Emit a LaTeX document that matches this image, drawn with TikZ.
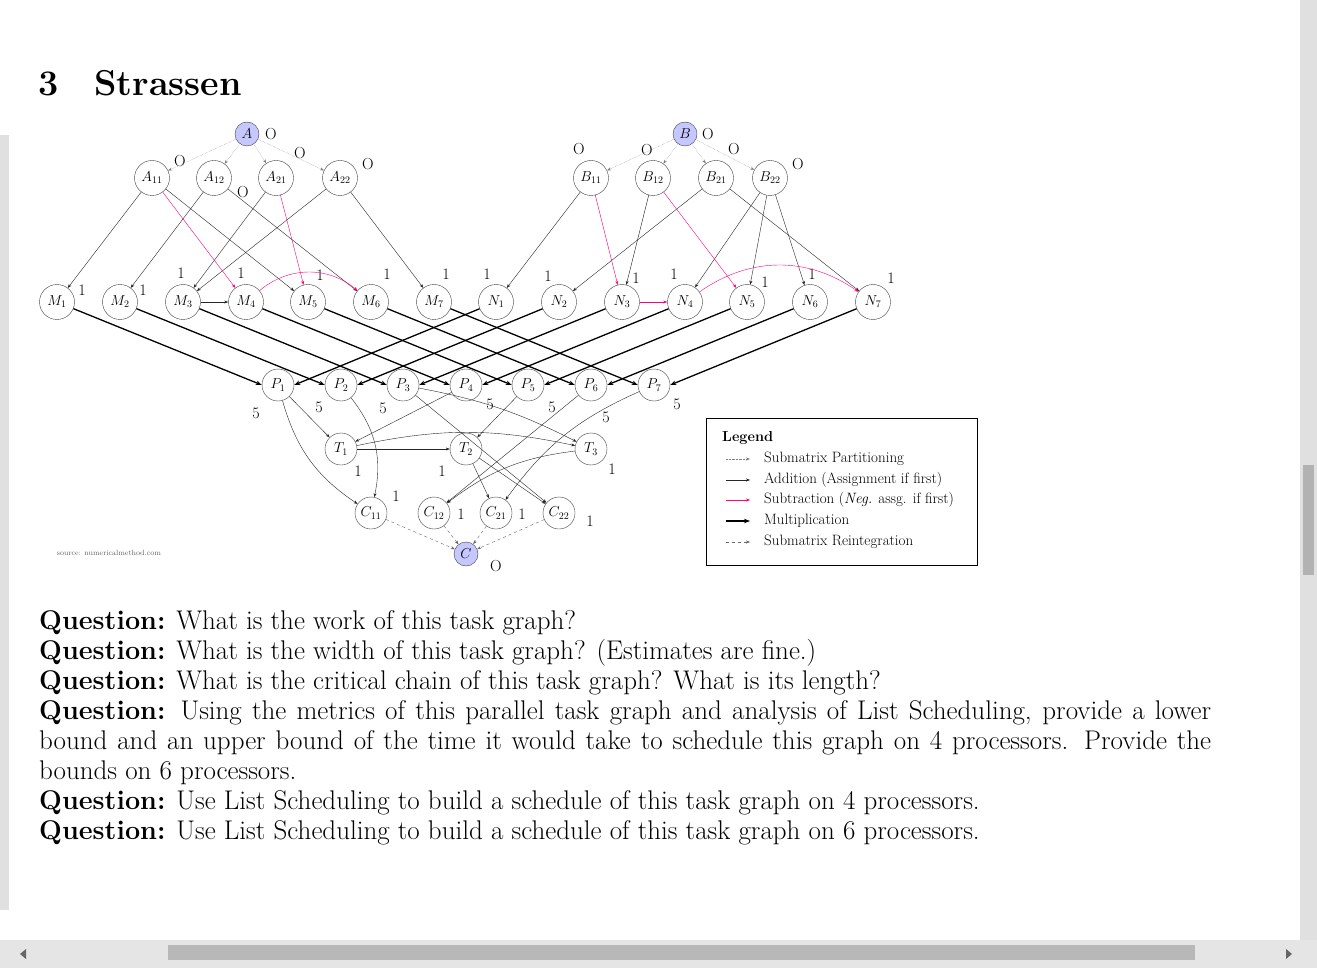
\documentclass[tikz,border=0pt]{standalone}
\usetikzlibrary{arrows.meta}
\begin{document}
\begin{tikzpicture}[x=1pt,y=-1pt,
 nd/.style={circle,draw=black!75,thin,minimum size=35pt,inner sep=0pt,font=\fontsize{14}{15}\selectfont},
 rt/.style={circle,draw=black!75,fill=blue!22,minimum size=24pt,inner sep=0pt,font=\fontsize{14}{15}\selectfont},
 lb/.style={font=\fontsize{16}{17}\selectfont,inner sep=0pt},
 part/.style={densely dotted,black!50,-{Stealth[length=4pt]}},
 add/.style={black!85,-{Stealth[length=4pt]}},
 sub/.style={red!50!magenta,-{Stealth[length=4pt]}},
 mul/.style={line width=1.3pt,black,-{Stealth[length=6pt]}},
 reint/.style={dashed,black!60,-{Stealth[length=4pt]}}]
\useasboundingbox (0,0) rectangle (1317,968);
\fill[white] (0,0) rectangle (1317,968);
% viewer chrome
\fill[black!12] (1300,0) rectangle (1317,940);
\fill[black!30] (1303,465) rectangle (1314,575);
\fill[black!10] (0,940) rectangle (1317,968);
\fill[black!28] (168,945) rectangle (1195,960);
\fill[black!12] (0,135) rectangle (9,910);
\fill[black!60] (20,954) -- (26,949) -- (26,959) -- cycle;
\fill[black!60] (1292,954) -- (1286,949) -- (1286,959) -- cycle;
% heading
\node[anchor=west,inner sep=0pt,font=\fontsize{36}{40}\selectfont\bfseries] at (38,83) {3\hspace{36pt}Strassen};
% nodes
\node[rt] (A) at (247,134) {$A$};
\node[rt] (B) at (685,134) {$B$};
\node[nd] (A11) at (152,178) {$A_{11}$};
\node[nd] (A12) at (214,178) {$A_{12}$};
\node[nd] (A21) at (276,178) {$A_{21}$};
\node[nd] (A22) at (340,178) {$A_{22}$};
\node[nd] (B11) at (591,178) {$B_{11}$};
\node[nd] (B12) at (653,178) {$B_{12}$};
\node[nd] (B21) at (716,178) {$B_{21}$};
\node[nd] (B22) at (770,178) {$B_{22}$};
\foreach \i/\x in {1/57,2/120,3/183,4/246,5/308,6/371,7/434} \node[nd] (M\i) at (\x,302) {$M_{\i}$};
\foreach \i/\x in {1/496,2/559,3/622,4/685,5/747,6/810,7/873} \node[nd] (N\i) at (\x,302) {$N_{\i}$};
\foreach \i/\x in {1/278,2/341,3/403,4/466,5/528,6/591,7/654} \node[nd,minimum size=32pt] (P\i) at (\x,385) {$P_{\i}$};
\foreach \i/\x in {1/341,2/466,3/591} \node[nd,minimum size=32pt] (T\i) at (\x,449) {$T_{\i}$};
\node[nd,minimum size=32pt] (C11) at (371,513) {$C_{11}$};
\node[nd,minimum size=32pt] (C12) at (434,513) {$C_{12}$};
\node[nd,minimum size=32pt] (C21) at (496,513) {$C_{21}$};
\node[nd,minimum size=32pt] (C22) at (559,513) {$C_{22}$};
\node[rt] (C) at (466,554) {$C$};
% weight labels
\foreach \x/\y in {271/134,180/161,243/192,300/153,368/164,708/134,579/149,647/150,734/149,798/164,496/566}
  \node[lb] at (\x,\y) {O};
\foreach \x/\y in {82/290,143/290,181/273,241/273,320/275,387/274,446/274,487/274,548/276,636/278,674/274,765/282,812/274,891/278,358/471,442/471,612/469,396/496,461/514,522/514,590/521}
  \node[lb] at (\x,\y) {1};
\foreach \x/\y in {256/413,319/407,383/408,490/404,552/407,606/417,677/404}
  \node[lb] at (\x,\y) {5};
% partitioning
\foreach \n in {A11,A12,A21,A22} \draw[part] (A) -- (\n);
\foreach \n in {B11,B12,B21,B22} \draw[part] (B) -- (\n);
% additions / subtractions into M
\draw[add] (A11) -- (M1);
\draw[add] (A12) -- (M2);
\draw[add] (A21) -- (M3);
\draw[add] (A22) -- (M3);
\draw[sub] (A11) -- (M4);
\draw[add] (A11) -- (M5);
\draw[sub] (A21) -- (M5);
\draw[add] (A12) -- (M6);
\draw[add] (A22) -- (M7);
\draw[add] (M3) -- (M4);
\draw[sub] (M4) to[bend left=40] (M6);
% into N
\draw[add] (B11) -- (N1);
\draw[add] (B21) -- (N2);
\draw[sub] (B11) -- (N3);
\draw[add] (B12) -- (N3);
\draw[sub] (N3) -- (N4);
\draw[sub] (B12) -- (N5);
\draw[add] (B22) -- (N4);
\draw[add] (B22) -- (N5);
\draw[add] (B22) -- (N6);
\draw[add] (B21) -- (N7);
\draw[sub] (N4) to[bend left=35] (N7);
% multiplications
\foreach \i in {1,...,7} {\draw[mul] (M\i) -- (P\i.west); \draw[mul] (N\i) -- (P\i.east);}
% P to T / C
\draw[add] (P1) -- (T1);
\draw[add] (P1) to[bend right=20] (C11);
\draw[add] (P2) to[bend left=25] (C11);
\draw[add] (P3) to[bend left=8] (T3);
\draw[add] (P3) -- (C22);
\draw[add] (P4) -- (T1);
\draw[add] (P5) -- (T2);
\draw[add] (P6) -- (C12);
\draw[add] (P7) to[bend right=15] (C21);
\draw[add] (T1) -- (T2);
\draw[add] (T1) to[bend left=12] (T3);
\draw[add] (T2) -- (C21);
\draw[add] (T2) -- (C22);
\draw[add] (T3) to[bend right=15] (C12);
% reintegration
\foreach \n in {C11,C12,C21,C22} \draw[reint] (\n) -- (C);
\node[font=\fontsize{7.5}{8}\selectfont,text=black!60,inner sep=0pt] at (109,553) {source: numericalmethod.com};
% legend
\draw[black,thick] (706,418) rectangle (977,565);
\node[anchor=west,inner sep=0pt,font=\fontsize{14.5}{15}\selectfont\bfseries] at (722,438) {Legend};
\coordinate (l1) at (726,459); \coordinate (r1) at (750,459);
\coordinate (l2) at (726,480); \coordinate (r2) at (750,480);
\coordinate (l3) at (726,500); \coordinate (r3) at (750,500);
\coordinate (l4) at (726,521); \coordinate (r4) at (750,521);
\coordinate (l5) at (726,542); \coordinate (r5) at (750,542);
\draw[part] (l1) -- (r1); \draw[add] (l2) -- (r2); \draw[sub] (l3) -- (r3);
\draw[mul] (l4) -- (r4); \draw[reint] (l5) -- (r5);
\begin{scope}[every node/.style={anchor=west,inner sep=0pt,font=\fontsize{15}{16}\selectfont}]
\node at (764,459) {Submatrix Partitioning};
\node at (764,480) {Addition (Assignment if first)};
\node at (764,500) {Subtraction (\textit{Neg.} assg. if first)};
\node at (764,521) {Multiplication};
\node at (764,542) {Submatrix Reintegration};
\end{scope}
% questions
\node[anchor=north west,inner sep=0pt,text width=1172pt,align=justify,font=\fontsize{27}{30}\selectfont] at (39,610) {%
\textbf{Question:} What is the work of this task graph?\\
\textbf{Question:} What is the width of this task graph? (Estimates are fine.)\\
\textbf{Question:} What is the critical chain of this task graph? What is its length?\\
\textbf{Question:} Using the metrics of this parallel task graph and analysis of List Scheduling, provide a lower\linebreak bound and an upper bound of the time it would take to schedule this graph on 4 processors. Provide the\linebreak bounds on 6 processors.\\
\textbf{Question:} Use List Scheduling to build a schedule of this task graph on 4 processors.\\
\textbf{Question:} Use List Scheduling to build a schedule of this task graph on 6 processors.};
\end{tikzpicture}
\end{document}
